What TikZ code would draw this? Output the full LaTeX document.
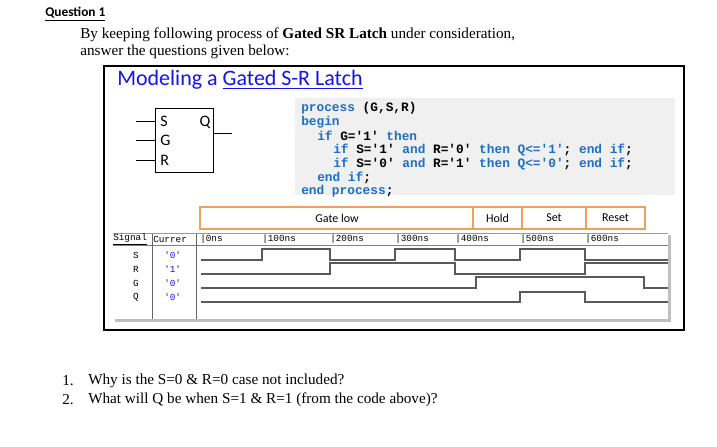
\documentclass[tikz,border=0pt]{standalone}
\usepackage{fontspec}
\setmainfont{Liberation Serif}
\newfontfamily\calfnt{Carlito}
\newfontfamily\monofnt{Liberation Mono}
\definecolor{kw}{RGB}{30,110,200}
\definecolor{org}{RGB}{240,160,90}
\definecolor{ttl}{RGB}{20,20,230}
\definecolor{wv}{RGB}{90,90,90}
\begin{document}
\begin{tikzpicture}[x=0.75pt,y=-0.75pt,
  txt/.style={anchor=west,inner sep=0,font=\fontsize{11.4}{13}\selectfont},
  code/.style={anchor=west,inner sep=0,font=\monofnt\bfseries\fontsize{9.6}{11}\selectfont},
  hdr/.style={anchor=west,inner sep=0,font=\monofnt\fontsize{7}{8}\selectfont},
  lbl/.style={inner sep=0,font=\calfnt\fontsize{9}{10}\selectfont},
  wave/.style={wv,line width=0.8pt}]
\useasboundingbox (0,0) rectangle (717,446);
\node[anchor=west,inner sep=0,font=\calfnt\bfseries\fontsize{10}{11}\selectfont] (q) at (45,14) {\underline{Question 1}};
\node[txt] (t1) at (80,35) {By keeping following process of \textbf{Gated SR Latch} under consideration,};
\node[txt] (t2) at (80,52) {answer the questions given below:};
% frame
\draw[line width=0.8pt] (104,66) rectangle (684,330);
\node[anchor=west,inner sep=0,text=ttl,font=\calfnt\fontsize{16.5}{19}\selectfont] (title) at (117,80) {Modeling a \underline{Gated S-R Latch}};
% latch
\node[draw,minimum width=43.5pt,minimum height=48pt,anchor=north west,inner sep=0] (latch) at (155,108) {};
\foreach \n/\y in {S/121,G/140,R/160}{
  \coordinate (in\n) at (136,\y);
  \draw (in\n) -- (155,\y);
  \node[lbl,anchor=west,font=\calfnt\fontsize{12}{14}\selectfont] (l\n) at (160,\y) {\n};
}
\node[lbl,font=\calfnt\fontsize{12}{14}\selectfont] (lQ) at (205,122) {Q};
\coordinate (outQ) at (232,133);
\draw (213,133) -- (outQ);
% code
\fill[black!6] (295,98) rectangle (675,195);
\node[code] (c1) at (301,108) {\textcolor{kw}{process} (G,S,R)};
\node[code] (c2) at (301,122) {\textcolor{kw}{begin}};
\node[code] (c3) at (317,136) {\textcolor{kw}{if} G='1' \textcolor{kw}{then}};
\node[code] (c4) at (333,150) {\textcolor{kw}{if} S='1' \textcolor{kw}{and} R='0' \textcolor{kw}{then} \textcolor{kw}{Q<='1'}; \textcolor{kw}{end if};};
\node[code] (c5) at (333,164) {\textcolor{kw}{if} S='0' \textcolor{kw}{and} R='1' \textcolor{kw}{then} \textcolor{kw}{Q<='0'}; \textcolor{kw}{end if};};
\node[code] (c6) at (317,178) {\textcolor{kw}{end if};};
\node[code] (c7) at (301,191) {\textcolor{kw}{end process};};
% orange labels
\draw[org,line width=0.9pt] (200,207) rectangle (645,229);
\foreach \x in {473,522,586} \draw[org,line width=0.9pt] (\x,207) -- (\x,229);
\node[lbl] (gl) at (337,218) {Gate low};
\node[lbl] (ho) at (497.5,218) {Hold};
\node[lbl] (se) at (554,218) {Set};
\node[lbl] (re) at (615.5,218) {Reset};
% waveform panel
\fill[black!25] (115,235) rectangle (671,322);
\fill[white] (113,233) rectangle (668,319);
\draw[black!50] (113,245) -- (668,245);
\draw[black!60] (152,233) -- (152,319);
\draw[black!60] (196,233) -- (196,319);
\draw[black!40] (113,233) -- (668,233);
\node[hdr] (hs) at (113,239.5) {\underline{Signal}};
\node[hdr] (hc) at (153,239.5) {Curre\rlap{r}};
\foreach \t/\x in {0/200,100/262,200/330,300/395,400/455,500/520,600/585}
  \node[hdr] at (\x,239.5) {|\t ns};
\foreach \n/\v/\y in {S/0/255,R/1/269,G/0/283,Q/0/297}{
  \node[hdr,anchor=center] (n\n) at (136,\y) {\n};
  \node[hdr,text=ttl] (v\n) at (164,\y) {'\v'};
}
\draw[wave] (201,260) -| (262,249) -| (330,260) -| (395,249) -| (455,260) -| (520,249) -| (585,260) -- (668,260);
\draw[wave] (201,274) -| (330,263) -| (455,274) -| (585,263) -- (668,263);
\draw[wave] (201,288) -| (476,277) -| (644,288) -- (668,288);
\draw[wave] (201,302) -| (520,292) -| (585,302) -- (668,302);
% questions
\node[txt] (n1) at (62,381) {1.};
\node[txt] (q1) at (88,381) {Why is the S=0 \& R=0 case not included?};
\node[txt] (n2) at (62,400) {2.};
\node[txt] (q2) at (88,400) {What will Q be when S=1 \& R=1 (from the code above)?};
\end{tikzpicture}
\end{document}
